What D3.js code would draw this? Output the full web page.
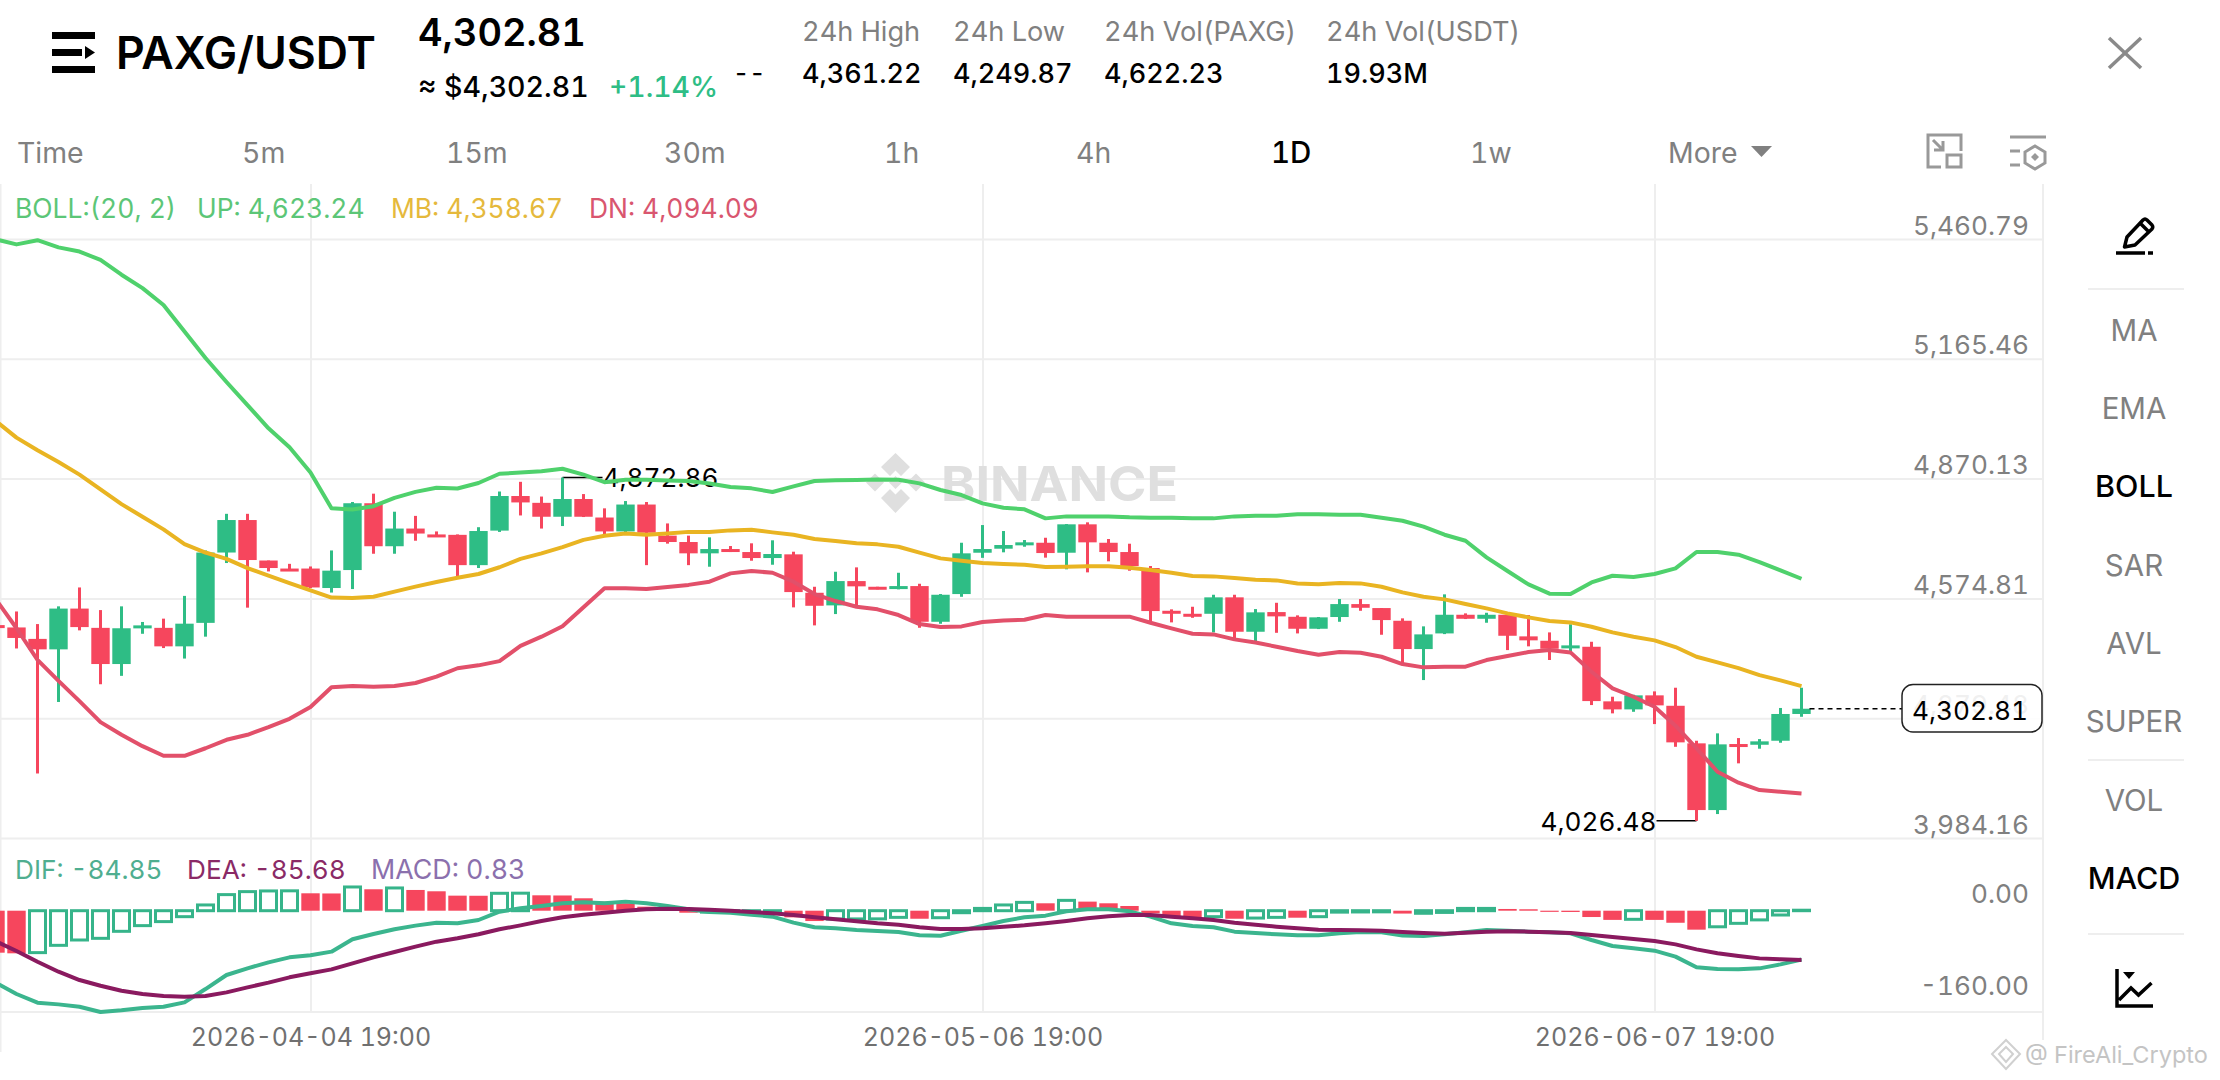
<!DOCTYPE html>
<html lang="en">
<head>
    <meta charset="UTF-8">
    <title>PAXG/USDT</title>
    <style>
        html, body{
            margin: 0;
            padding: 0;
            background: #fff;
            overflow: hidden;
        }
        svg{
            display: block;
        }
        text{
            font-family: Inter, 'Noto Sans', sans-serif;
            font-variant-numeric: tabular-nums;
        }
    </style>
</head>
<body>
    <div id="chart-container"></div>
    <script src="https://d3js.org/d3.v7.min.js"></script>
    <script>
        // daily candles
        const opens = [
            4509, 4503.2, 4475, 4449.2, 4549.7, 4502.2, 4413, 4502.2, 4502.2, 4456.6,
            4514.5, 4687.9, 4768, 4668.2, 4648.4, 4648.4, 4600.4, 4644.7, 4809.4, 4703.4,
            4747, 4732.5, 4731.5, 4656.8, 4741.9, 4827.2, 4810.4, 4776.1, 4819.8, 4774.2,
            4739.9, 4806.2, 4729.5, 4713.8, 4685.9, 4696.5, 4689.1, 4674.3, 4683.4, 4588.7,
            4557.6, 4617.5, 4603.5, 4597.8, 4605.2, 4517.2, 4585.5, 4687.4, 4697.3, 4707.1,
            4712, 4687.4, 4757.4, 4712, 4689.1, 4649.7, 4544.3, 4536.9, 4536.9, 4577.4,
            4492.6, 4541.1, 4529.5, 4500, 4528.9, 4560.8, 4551, 4519.7, 4449.9, 4488.5,
            4534.5, 4524.6, 4534.5, 4481.2, 4470.4, 4453.1, 4455.6, 4321, 4301.2, 4335.8,
            4310.1, 4217.5, 4053, 4215.8, 4214, 4223.9, 4289.9
        ];
        const highs = [
            4510, 4542.6, 4511.5, 4555.2, 4601.8, 4546, 4555.2, 4516.7, 4524.9, 4581,
            4693, 4783.3, 4783.3, 4668.2, 4660, 4653.5, 4693, 4812.4, 4833, 4788.5,
            4778.2, 4739.9, 4732.5, 4750.3, 4838.3, 4862.2, 4825.9, 4872.86, 4832, 4796.8,
            4814.8, 4812.4, 4759.6, 4729.5, 4725.3, 4703.9, 4710.6, 4718, 4689.9, 4603.5,
            4640.5, 4651.3, 4603.5, 4638, 4610.9, 4585.5, 4712, 4755.6, 4740.9, 4718.7,
            4724.3, 4758, 4762.3, 4721.2, 4709.6, 4654.6, 4547.8, 4554.2, 4583.8, 4583.8,
            4548.5, 4564, 4533, 4528.9, 4573.2, 4573.2, 4551, 4525.6, 4505.9, 4584.8,
            4537.9, 4539.4, 4537.9, 4533.7, 4491, 4511, 4467.9, 4332.4, 4337.3, 4345.6,
            4354.6, 4223.9, 4242.1, 4230.5, 4228, 4304.7, 4354.6
        ];
        const lows = [
            4507, 4451.4, 4143.2, 4319.5, 4496, 4363.2, 4383.9, 4487.6, 4452.4, 4426.5,
            4480.5, 4662, 4552, 4641.3, 4643.2, 4600.4, 4589.2, 4597.8, 4684.9, 4684.9,
            4717, 4727.3, 4628.4, 4649.7, 4738.7, 4779.3, 4747, 4753.2, 4775.4, 4732.5,
            4736.7, 4656.8, 4709.8, 4656.8, 4652.9, 4689.1, 4667.7, 4657.8, 4552.7, 4508.3,
            4536.2, 4558.4, 4597.1, 4597.1, 4502.4, 4512.3, 4578.8, 4674.8, 4688.4, 4702.2,
            4675.3, 4646.5, 4639, 4666.2, 4643, 4517.2, 4515.7, 4527, 4491, 4476.3,
            4467.9, 4490, 4488.5, 4499.2, 4517.2, 4544.3, 4485.2, 4414.7, 4373.5, 4486.8,
            4523.9, 4514.8, 4447.4, 4456.6, 4423, 4437.6, 4311.9, 4291.4, 4295.3, 4265,
            4209, 4026.48, 4043.2, 4168.2, 4204.3, 4219, 4283
        ];
        const closes = [
            4508, 4477.3, 4449.2, 4549.7, 4504.1, 4413, 4501.2, 4508.3, 4456.6, 4512.5,
            4687.9, 4768, 4669.4, 4649.7, 4644.7, 4601.8, 4643.2, 4809.4, 4703.4, 4747,
            4734.7, 4728.6, 4656.8, 4740.9, 4827.2, 4811.4, 4776.1, 4819.8, 4776.1, 4739.9,
            4806.2, 4736.7, 4713.8, 4685.9, 4696.5, 4689.9, 4674.3, 4684.2, 4590.4, 4556.6,
            4617.5, 4604.5, 4597.8, 4605.2, 4517.2, 4583.8, 4685.9, 4696.5, 4706.4, 4713,
            4686.6, 4757.4, 4713, 4689.1, 4654.6, 4543.6, 4537.9, 4529.5, 4577.4, 4492.6,
            4540.4, 4530.5, 4500, 4528.1, 4560.8, 4551.7, 4521.4, 4449.9, 4486.1, 4534.5,
            4524.6, 4534.5, 4482.7, 4471.4, 4450.7, 4459, 4321.7, 4301.2, 4335.8, 4311.1,
            4219.9, 4053, 4215, 4209, 4222.4, 4289.9, 4302.81
        ];

        // bollinger bands
        const bollUp = [
            5460, 5447.5, 5457.9, 5440.2, 5429.8, 5409.1, 5372.8, 5339.6, 5298.1, 5232.7,
            5167.3, 5108.2, 5051.1, 4994.1, 4947.3, 4885.1, 4796.9, 4793.8, 4802.1, 4822.8,
            4837.4, 4847.7, 4845.7, 4859.2, 4882, 4885.1, 4888.2, 4894.4, 4879.9, 4861.2,
            4867.4, 4867.4, 4865.4, 4864.3, 4858, 4849.4, 4846.1, 4837, 4851, 4864.1,
            4865.8, 4866.6, 4868.2, 4867.4, 4858.4, 4842, 4829.6, 4809.1, 4798.4, 4794.3,
            4772.1, 4777, 4777, 4777, 4774.6, 4773.7, 4773.7, 4772.1, 4772.1, 4777,
            4778.7, 4778.7, 4782, 4782, 4781.1, 4781.1, 4773.7, 4766.3, 4751.6, 4731.8,
            4717, 4676, 4642.3, 4609.4, 4586.4, 4585.5, 4614.3, 4630.7, 4627.5, 4634.9,
            4648.8, 4689.1, 4689.1, 4682.5, 4664.4, 4643.9, 4623.24
        ];
        const bollMid = [
            5012.7, 4971.2, 4940, 4911, 4879.9, 4843.6, 4807.3, 4776.1, 4745, 4708.7,
            4687.9, 4672.4, 4649.6, 4630.9, 4612.2, 4594.6, 4576.9, 4575.9, 4579, 4591.4,
            4603.9, 4615.3, 4625.7, 4635, 4651.6, 4672.4, 4685.9, 4701.4, 4719, 4729.4,
            4734.6, 4731.5, 4734.6, 4738.8, 4738.4, 4742.5, 4744.2, 4737.6, 4731.8, 4721.2,
            4716.2, 4710.5, 4708, 4702.2, 4687.5, 4673.5, 4667.7, 4662, 4659.5, 4657.9,
            4652.1, 4652.9, 4653.8, 4653.8, 4650.5, 4644.7, 4638.1, 4629.9, 4629.1, 4625,
            4621, 4619.2, 4611.8, 4609.4, 4612.7, 4611.8, 4603.6, 4589.7, 4579, 4572.4,
            4560.9, 4550.2, 4537.9, 4528, 4519, 4515.7, 4505, 4491, 4480.3, 4471.3,
            4454.9, 4431, 4417.1, 4403.1, 4385.8, 4372.7, 4358.67
        ];
        const bollDn = [
            4573.8, 4501.2, 4423.3, 4371.4, 4321.6, 4269.8, 4238.6, 4210.6, 4186.8, 4186.8,
            4205.4, 4226.2, 4238.6, 4257.3, 4278, 4307.1, 4355.9, 4359, 4356.9, 4359,
            4366.3, 4381.8, 4402.6, 4409.8, 4420.2, 4457.6, 4480.4, 4506.3, 4553, 4599.7,
            4599.7, 4597.7, 4602.8, 4608.1, 4615.9, 4636.5, 4642.3, 4638.1, 4616, 4585.5,
            4568.3, 4554.3, 4547.8, 4533.8, 4511.6, 4504.2, 4505.8, 4516.5, 4520.6, 4522.3,
            4533.8, 4529.7, 4529.7, 4529.7, 4529.7, 4514.9, 4500.9, 4487.8, 4486.1, 4473.8,
            4466, 4455.7, 4445, 4436, 4442.5, 4440.9, 4431, 4413, 4404.8, 4406.4,
            4406.4, 4422.8, 4432.7, 4442.5, 4447.5, 4441.7, 4394, 4353, 4332.4, 4307.8,
            4261, 4205, 4147.5, 4120.4, 4102.3, 4098.2, 4094.09
        ];

        // macd panel
        const difLine = [
            -125.3, -145, -160.2, -163.1, -167.2, -176.4, -173.5, -169.5, -167.2, -159.6,
            -136.4, -112, -100.4, -89.9, -81.2, -77.7, -71.3, -49.8, -40.6, -32.4,
            -26, -20.8, -22, -16.2, -1.7, 4.2, 8.2, 12.9, 14.6, 12.9,
            15.8, 12.9, 8.2, 2.4, -2.2, -3.4, -6.9, -10.4, -20.8, -28.9,
            -30.7, -33.6, -35.3, -37.1, -42.9, -43.5, -34.8, -26.6, -17.9, -11.5,
            -8.6, -1.1, 2.4, 2.4, -1.1, -10.4, -22, -26.6, -28.9, -36.5,
            -38.8, -41.1, -42.9, -42.9, -39.4, -37.1, -37.7, -43, -44, -41.1,
            -37.7, -33.6, -34.8, -36.5, -37.7, -39.4, -51, -61.5, -65.5, -69.6,
            -80, -98.6, -101.5, -102.1, -100.4, -93.4, -84.85
        ];
        const deaLine = [
            -52.8, -70.2, -88.8, -106.2, -120.7, -130.6, -139.3, -145.1, -148.6, -149.7,
            -148.6, -142.2, -133.5, -125.3, -116, -109, -102.1, -91.7, -81.2, -71.9,
            -62.6, -53.9, -48.1, -41.1, -32.4, -25.5, -17.9, -11.5, -6.9, -3.4,
            0, 2.4, 3.6, 3, 1.8, 0, -2.2, -4.6, -7.5, -11.5,
            -15, -18.5, -22, -24.3, -28.9, -31.8, -31.8, -30.7, -27.8, -25.5,
            -22, -17.9, -13.3, -9.8, -7.5, -7.5, -10.4, -13.3, -16.2, -20.8,
            -24.3, -27.8, -30.7, -33, -33.6, -34.2, -34.8, -37.1, -38.8, -40,
            -38.2, -36.5, -35.9, -36.5, -37.7, -38.8, -42.3, -45.8, -49.3, -52.8,
            -58.6, -67.3, -74.2, -78.9, -83, -84.7, -85.68
        ];
        const macdBars = [
            -73.1, -74.2, -73, -60.3, -51, -48.1, -35.9, -26, -19, -10.4,
            10, 28, 33.2, 34.4, 34.6, 30.3, 30, 41.3, 37.3, 39.6,
            36.1, 33.8, 26.2, 26, 30.3, 30.5, 26.8, 26.5, 21.6, 15.8,
            12.9, 7, 4.2, -3.5, -2.5, -2, -1.5, -1, -11.6, -18,
            -14.5, -14.3, -14.2, -11.6, -14, -12.2, -3.5, 4, 10, 14.5,
            12.9, 18, 15.8, 12.9, 8.2, -4.6, -11.6, -12, -10.4, -14,
            -12.8, -11.6, -12.2, -10.4, -2.5, -2.2, -2, -5, -4.5, -3,
            4, 4, 3, 2.5, -2, -2.2, -11, -16, -15, -16,
            -21, -33, -28, -22, -16, -7.5, 0.83
        ];

        const priceTicks = [5460.79, 5165.46, 4870.13, 4574.81, 4279.48, 3984.16];
        const macdTicks = [0, -160];
        const dateTicks = [15, 47, 79];
        const dateLabels = ["2026-04-04 19:00", "2026-05-06 19:00", "2026-06-07 19:00"];

        const periods = [["Time", 17], ["5m", 242], ["15m", 446], ["30m", 664], ["1h", 884], ["4h", 1076], ["1w", 1470], ["More", 1668]];
        const statNames = ["24h High", "24h Low", "24h Vol(PAXG)", "24h Vol(USDT)"];
        const statValues = ["4,361.22", "4,249.87", "4,622.23", "19.93M"];
        const statX = [802, 953, 1104, 1326];
        const sideItems = [["MA", 331], ["EMA", 409], ["BOLL", 487], ["SAR", 566], ["AVL", 644], ["SUPER", 722], ["VOL", 801], ["MACD", 879]];

        const w = 2220;
        const h = 1080;
        const right = 2043;
        const gridColor = "#eeeeee";
        const gray = "#808080";
        const upColor = "#2ebd85";
        const downColor = "#f6465d";

        const svg = d3.select(document.getElementById("chart-container"))
                    .append("svg")
                    .attr("width", w)
                    .attr("height", h);

        const x = d3.scaleLinear().domain([0, 86]).range([-4.5, 1801.5]);
        const yPrice = d3.scaleLinear().domain([3984.16, 5460.79]).range([838, 239]);
        const yMacd = d3.scaleLinear().domain([-160, 0]).range([1002.6, 910.7]);

        const label = (str, lx, ly, size, fill, weight, anchor) => {
            return svg.append("text")
                .attr("x", lx)
                .attr("y", ly)
                .attr("font-size", size)
                .attr("font-weight", weight || 400)
                .attr("text-anchor", anchor || "start")
                .attr("fill", fill)
                .text(str);
        };

        // header
        svg.append("rect").attr("x", 52).attr("y", 32).attr("width", 43).attr("height", 7).attr("fill", "#000");
        svg.append("rect").attr("x", 52).attr("y", 49).attr("width", 30).attr("height", 7).attr("fill", "#000");
        svg.append("path").attr("d", "M85 46 L95 52.5 L85 59 Z").attr("fill", "#000");
        svg.append("rect").attr("x", 52).attr("y", 66).attr("width", 43).attr("height", 7).attr("fill", "#000");
        label("PAXG/USDT", 116, 69, 44.6, "#000", 600);
        label("4,302.81", 418, 46, 38, "#000", 600);
        label("\u2248 $4,302.81", 418, 97, 28.5, "#000", 500);
        label("+1.14%", 609, 97, 28.3, upColor, 500);
        label("--", 733, 82, 25, "#000", 500);
        statNames.forEach((d, i) => {
            label(d, statX[i], 41, 27.2, gray);
            label(statValues[i], statX[i], 83, 27, "#000", 500);
        });
        svg.append("path").attr("d", "M2109 38 L2141 68 M2141 38 L2109 68")
            .attr("stroke", "#8a8a8a").attr("stroke-width", 3.5).attr("fill", "none");

        // period tabs
        periods.forEach((d) => label(d[0], d[1], 163, 28.4, gray));
        label("1D", 1271, 163, 29.5, "#000", 500);
        svg.append("path").attr("d", "M1751 146 L1772 146 L1761.5 157 Z").attr("fill", gray);

        const iconGroup = svg.append("g").attr("fill", "none").attr("stroke", "#999").attr("stroke-width", 3);
        iconGroup.append("path").attr("d", "M1961 151 V135 H1928 V167 H1941 M1933 140 L1943 150 M1934 150 H1943 V141");
        iconGroup.append("rect").attr("x", 1947).attr("y", 155).attr("width", 14).attr("height", 12);
        iconGroup.append("path").attr("d", "M2010 137 H2046 M2010 151 H2020 M2010 165 H2020 M2035 146 L2045 152 V163 L2035 169 L2025 163 V152 Z");
        svg.append("path").attr("d", "M2035 153 L2039 157 L2035 161 L2031 157 Z").attr("fill", "#999");

        // grid, drawn with the axes
        svg.append("g")
            .attr("transform", "translate(" + right + ",0)")
            .call(d3.axisLeft(yPrice).tickValues(priceTicks).tickSize(right).tickFormat(""))
            .call((g) => g.select(".domain").remove())
            .selectAll("line").attr("stroke", gridColor).attr("stroke-width", 2);
        svg.append("line").attr("x1", 0).attr("x2", right).attr("y1", 1012).attr("y2", 1012)
            .attr("stroke", gridColor).attr("stroke-width", 2);
        svg.append("g")
            .attr("transform", "translate(0,1012)")
            .call(d3.axisBottom(x).tickValues(dateTicks).tickSize(-828).tickFormat(""))
            .call((g) => g.select(".domain").remove())
            .selectAll("line").attr("stroke", gridColor).attr("stroke-width", 2);
        svg.append("line").attr("x1", 0.5).attr("x2", 0.5).attr("y1", 184).attr("y2", 1052)
            .attr("stroke", gridColor).attr("stroke-width", 2);
        svg.append("line").attr("x1", right).attr("x2", right).attr("y1", 184).attr("y2", 1040)
            .attr("stroke", gridColor).attr("stroke-width", 2);

        // watermark
        svg.append("path")
            .attr("d", "M895.5 453 L910 467 L901 476 L895.5 470.5 L890 476 L881 467 Z M866 482.5 L875 473.5 L884 482.5 L875 491.5 Z M925 482.5 L916 473.5 L907 482.5 L916 491.5 Z M895.5 476 L902 482.5 L895.5 489 L889 482.5 Z M881 498 L890 489 L895.5 494.5 L901 489 L910 498 L895.5 513 Z")
            .attr("fill", "#dfdfdf");
        label("BINANCE", 941, 501, 48, "#dfdfdf", 700)
            .attr("textLength", 237)
            .attr("lengthAdjust", "spacingAndGlyphs");

        // value axes
        const priceAxis = svg.append("g")
            .attr("transform", "translate(2029,0)")
            .call(d3.axisLeft(yPrice).tickValues(priceTicks).tickSize(0).tickPadding(0).tickFormat(d3.format(",.2f")));
        priceAxis.select(".domain").remove();
        priceAxis.selectAll("text")
            .attr("dy", 0).attr("y", -5).attr("fill", gray)
            .style("font-size", "26.2px").style("font-family", "Inter, sans-serif");

        const macdAxis = svg.append("g")
            .attr("transform", "translate(2029,0)")
            .call(d3.axisLeft(yMacd).tickValues(macdTicks).tickSize(0).tickPadding(0).tickFormat((d) => d.toFixed(2)));
        macdAxis.select(".domain").remove();
        macdAxis.selectAll("text")
            .attr("dy", 0).attr("y", -8).attr("fill", gray)
            .style("font-size", "26.2px").style("font-family", "Inter, sans-serif");

        const dateAxis = svg.append("g")
            .attr("transform", "translate(0,1046)")
            .call(d3.axisBottom(x).tickValues(dateTicks).tickSize(0).tickPadding(0).tickFormat((d, i) => dateLabels[i]));
        dateAxis.select(".domain").remove();
        dateAxis.selectAll("text")
            .attr("dy", 0).attr("y", 0).attr("fill", "#707070")
            .style("font-size", "25px").style("font-family", "Inter, sans-serif");

        // high and low markers
        const hiIdx = highs.indexOf(d3.max(highs));
        const loIdx = lows.indexOf(d3.min(lows));
        svg.append("path")
            .attr("d", "M" + x(hiIdx) + " " + yPrice(highs[hiIdx]) + " H" + (x(hiIdx) + 40))
            .attr("stroke", "#000").attr("stroke-width", 1.5);
        label(d3.format(",.2f")(highs[hiIdx]), x(hiIdx) + 40, yPrice(highs[hiIdx]) + 10, 26.2, "#000");
        svg.append("path")
            .attr("d", "M" + x(loIdx) + " " + yPrice(lows[loIdx]) + " H" + (x(loIdx) - 40))
            .attr("stroke", "#000").attr("stroke-width", 1.5);
        label(d3.format(",.2f")(lows[loIdx]), x(loIdx) - 40, yPrice(lows[loIdx]) + 10, 26.2, "#000", 400, "end");

        // candles
        const candles = svg.append("g").selectAll("g")
            .data(opens)
            .enter()
            .append("g")
            .attr("fill", (d, i) => closes[i] >= d ? upColor : downColor);
        candles.append("rect")
            .attr("x", (d, i) => x(i) - 1.5)
            .attr("y", (d, i) => yPrice(highs[i]))
            .attr("width", 3)
            .attr("height", (d, i) => yPrice(lows[i]) - yPrice(highs[i]));
        candles.append("rect")
            .attr("x", (d, i) => x(i) - 9.2)
            .attr("y", (d, i) => yPrice(Math.max(d, closes[i])))
            .attr("width", 18.4)
            .attr("height", (d, i) => Math.max(3, Math.abs(yPrice(d) - yPrice(closes[i]))));

        // bollinger lines
        const priceLine = d3.line().x((d, i) => x(i)).y((d) => yPrice(d));
        [[bollDn, "#e2506a"], [bollUp, "#4fd16c"], [bollMid, "#e9b422"]].forEach((d) => {
            svg.append("path")
                .attr("d", priceLine(d[0]))
                .attr("fill", "none")
                .attr("stroke", d[1])
                .attr("stroke-width", 4)
                .attr("stroke-linejoin", "round");
        });

        // macd bars: red when falling, hollow green when rising
        const rising = (i) => i > 0 && macdBars[i] >= macdBars[i - 1];
        svg.append("g").selectAll("rect")
            .data(macdBars)
            .enter()
            .append("rect")
            .attr("x", (d, i) => x(i) - (rising(i) ? 8 : 9.2))
            .attr("y", (d) => Math.min(yMacd(d), yMacd(0)))
            .attr("width", (d, i) => rising(i) ? 16 : 18.4)
            .attr("height", (d) => Math.abs(yMacd(d) - yMacd(0)))
            .attr("fill", (d, i) => rising(i) ? "#fff" : downColor)
            .attr("stroke", (d, i) => rising(i) ? "#36b48a" : "none")
            .attr("stroke-width", 3);

        const macdLine = d3.line().x((d, i) => x(i)).y((d) => yMacd(d));
        [[difLine, "#3bb58e"], [deaLine, "#8a1a5f"]].forEach((d) => {
            svg.append("path")
                .attr("d", macdLine(d[0]))
                .attr("fill", "none")
                .attr("stroke", d[1])
                .attr("stroke-width", 4)
                .attr("stroke-linejoin", "round");
        });

        // current price
        const last = closes[closes.length - 1];
        svg.append("line")
            .attr("x1", x(86) + 8).attr("x2", 1902)
            .attr("y1", yPrice(last)).attr("y2", yPrice(last))
            .attr("stroke", "#000").attr("stroke-width", 1.5).attr("stroke-dasharray", "5,4");
        svg.append("rect")
            .attr("x", 1902).attr("y", 684.5).attr("width", 140).attr("height", 47.5).attr("rx", 11)
            .attr("fill", "#fff").attr("fill-opacity", 0.88)
            .attr("stroke", "#222").attr("stroke-width", 1.5);
        label(d3.format(",.2f")(last), 2028, 719.5, 26.2, "#000", 400, "end");

        // legends
        label("BOLL:(20, 2)", 15, 218, 26.5, "#5cc677");
        label("UP: 4,623.24", 197, 218, 26.4, "#5cc677");
        label("MB: 4,358.67", 391, 218, 26.4, "#e5b93c");
        label("DN: 4,094.09", 589, 218, 26.4, "#d9566f");
        label("DIF: -84.85", 15, 879, 26.2, "#4fae90");
        label("DEA: -85.68", 187, 879, 26.2, "#8a2a66");
        label("MACD: 0.83", 371, 879, 26.8, "#8b70ad");

        // side menu
        sideItems.forEach((d) => {
            const on = d[0] === "BOLL" || d[0] === "MACD";
            label(d[0], 2134, d[1] + 10, on ? 30.5 : 29.5, on ? "#000" : gray, on ? 500 : 400, "middle");
        });
        [289, 760, 934].forEach((d) => {
            svg.append("line").attr("x1", 2088).attr("x2", 2184).attr("y1", d).attr("y2", d)
                .attr("stroke", gridColor).attr("stroke-width", 2);
        });
        svg.append("path")
            .attr("d", "M2124.5 247 L2127 237 L2143 220 Q2145 218 2147 220 L2152 225 Q2153.5 227 2152 229 L2135 245 Z M2140 223 L2149 232")
            .attr("fill", "none").attr("stroke", "#000").attr("stroke-width", 3.5).attr("stroke-linejoin", "round");
        svg.append("path").attr("d", "M2116 253 H2145 M2148 253 H2153")
            .attr("stroke", "#000").attr("stroke-width", 3.5);
        svg.append("path").attr("d", "M2117 969 V1006 H2153 M2119 1000 L2131 988 L2138.5 995 L2151.5 983")
            .attr("fill", "none").attr("stroke", "#000").attr("stroke-width", 3.5);
        svg.append("path").attr("d", "M2123 972 H2135 L2129 979 Z").attr("fill", "#000");

        // source watermark
        svg.append("path")
            .attr("d", "M2006 1040 L2020 1054 L2006 1069 L1992 1054 Z M2006 1047 L2013 1054 L2006 1062 L1999 1054 Z")
            .attr("fill", "none").attr("stroke", "#d0d0d0").attr("stroke-width", 2);
        label("@ FireAli_Crypto", 2025, 1063, 23.5, "#c4c4c4");
    </script>
</body>
</html>
